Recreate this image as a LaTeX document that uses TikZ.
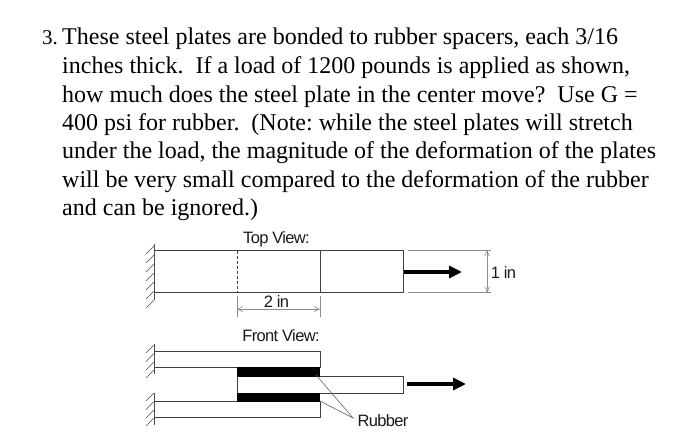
\documentclass[tikz,border=0pt]{standalone}
\usepackage{fontspec}
\setmainfont{Liberation Serif}
\newfontfamily\labelfont[LetterSpace=-4]{Liberation Sans}
\usetikzlibrary{arrows.meta}
\tikzset{
    bodytext/.style={anchor=base west, inner sep=0pt, font=\fontsize{24}{28}\selectfont\frenchspacing},
    viewlabel/.style={inner sep=0pt, text=black!90, font=\labelfont\fontsize{16.5}{18}\selectfont},
    plate/.style={draw=black!75, line width=.9pt},
    dimline/.style={draw=black!45, line width=.6pt},
    dimarrow/.style={dimline, {Straight Barb[length=5pt,width=5pt]}-{Straight Barb[length=5pt,width=5pt]}},
    load/.style={draw=black, line width=3.2pt, -{Triangle[length=13pt,width=12pt]}},
    hatch/.style={draw=black!70, line width=.6pt}
}
\begin{document}
\begin{tikzpicture}[x=1pt,y=-1pt]
    \useasboundingbox (0,0) rectangle (700,436);

    % problem text
    \node[bodytext, font=\fontsize{21}{28}\selectfont] (num) at (42,45) {3.};
    \node[bodytext] (line1) at (62,45) {These steel plates are bonded to rubber spacers, each 3/16};
    \node[bodytext] (line2) at (62,73.5) {inches thick.\ \ If a load of 1200 pounds is applied as shown,};
    \node[bodytext] (line3) at (62,102) {how much does the steel plate in the center move?\ \ Use G =};
    \node[bodytext] (line4) at (62,130) {400 psi for rubber.\ \ (Note: while the steel plates will stretch};
    \node[bodytext] (line5) at (62,158.5) {under the load, the magnitude of the deformation of the plates};
    \node[bodytext] (line6) at (62,187) {will be very small compared to the deformation of the rubber};
    \node[bodytext] (line7) at (62,215) {and can be ignored.)};

    % top view
    \node[viewlabel] (toplabel) at (276.5,239) {Top View:};
    \draw[plate] (154,250.5) rectangle (403.5,292.5);
    \draw[plate, densely dashed, line width=.5pt] (237,250.5) -- (237,292.5);
    \draw[plate] (320,250.5) -- (320,292.5);
    \draw[hatch] (154,244) -- (154,300);
    \foreach \y in {252,261,...,306} \draw[hatch] (154,\y-6) -- (146,\y+2);

    % load, top view
    \coordinate (topstart) at (403.5,272);
    \coordinate (topend) at (462,272);
    \draw[load] (topstart) -- (topend);

    % 1 in
    \coordinate (wa) at (408,250.5);
    \coordinate (wb) at (491,250.5);
    \coordinate (wc) at (408,292.5);
    \coordinate (wd) at (491,292.5);
    \coordinate (we) at (487,250.5);
    \coordinate (wf) at (487,292.5);
    \draw[dimline] (wa) -- (wb);
    \draw[dimline] (wc) -- (wd);
    \draw[dimarrow] (we) -- (wf);
    \node[viewlabel] (widthlabel) at (503.5,273) {1 in};

    % 2 in
    \coordinate (la) at (237,296);
    \coordinate (lb) at (237,317);
    \coordinate (lc) at (320,296);
    \coordinate (ld) at (320,317);
    \coordinate (le) at (237,309);
    \coordinate (lf) at (320,309);
    \draw[dimline] (la) -- (lb);
    \draw[dimline] (lc) -- (ld);
    \draw[dimarrow] (le) -- (lf);
    \node[viewlabel] (lengthlabel) at (276.5,301.5) {2 in};

    % front view
    \node[viewlabel] (frontlabel) at (281,336) {Front View:};
    \draw[plate] (154,351) rectangle (320,367.5);
    \draw[plate] (237,376) rectangle (403.5,393);
    \draw[plate] (154,401) rectangle (320,417.5);
    \fill (237,367) rectangle (320,376.5);
    \fill (237,392.5) rectangle (320,401.5);
    \draw[hatch] (154,344) -- (154,374);
    \draw[hatch] (154,393) -- (154,425);
    \foreach \y in {351,359.5,368,376} \draw[hatch] (154,\y-6) -- (146,\y+2);
    \foreach \y in {399,407.5,416,424} \draw[hatch] (154,\y-6) -- (146,\y+2);

    % load, front view
    \coordinate (frontstart) at (407,384);
    \coordinate (frontend) at (466,384);
    \draw[load] (frontstart) -- (frontend);

    % rubber
    \node[viewlabel] (rubber) at (383,420.5) {Rubber};
    \coordinate (rubbertop) at (316,375);
    \coordinate (rubberbot) at (320,401);
    \coordinate (rubbertip) at (353,418);
    \draw[draw=black!60, line width=.6pt] (rubbertop) -- (rubbertip) -- (rubberbot);
\end{tikzpicture}
\end{document}
